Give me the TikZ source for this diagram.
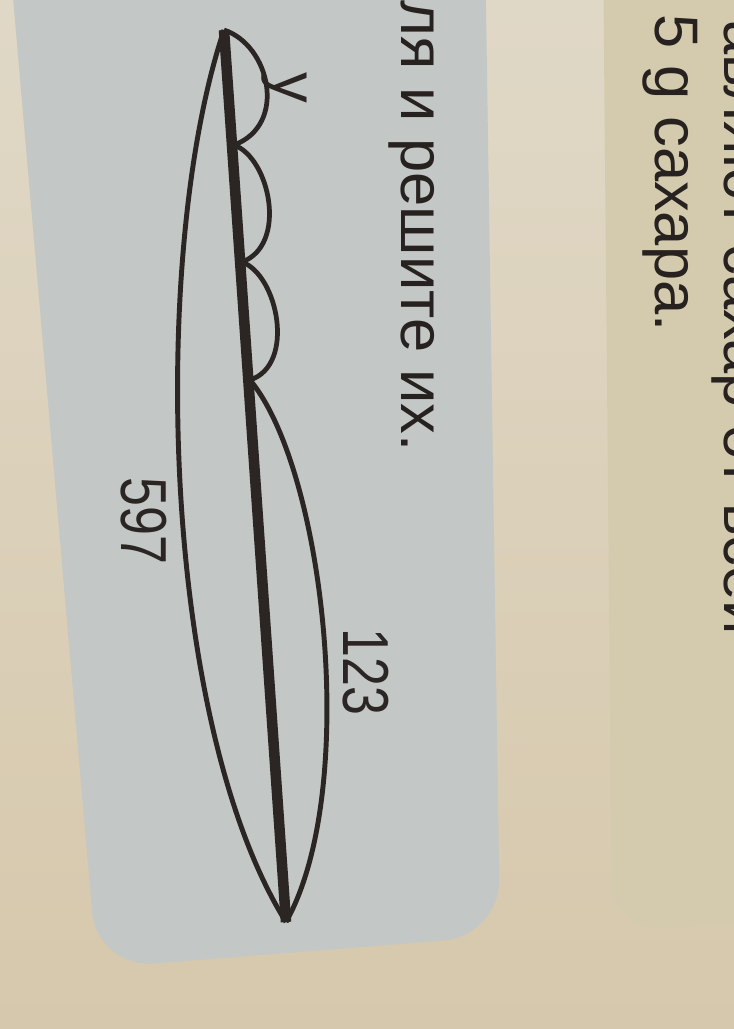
\documentclass[tikz,border=0pt]{standalone}
\usepackage{fontspec}
\usepackage{graphicx}
\setmainfont{Liberation Sans}
\definecolor{bgtop}{HTML}{E0D8C7}
\definecolor{bgbot}{HTML}{D6C8AC}
\definecolor{boxgray}{HTML}{C3C7C5}
\definecolor{khaki}{HTML}{D4CBAF}
\definecolor{ink}{HTML}{2B2623}
\tikzset{
  thickline/.style={draw=ink, line width=6pt, line cap=butt},
  thinline/.style={draw=ink, line width=2.8pt},
  arcline/.style={draw=ink, line width=2.7pt},
  pagetext/.style={text=ink!90!black, inner sep=0pt, rotate=-90, font=\fontsize{35}{40}\selectfont},
  numtext/.style={text=ink, inner sep=0pt, rotate=-90, font=\fontsize{37}{40}\selectfont},
}
\begin{document}
\begin{tikzpicture}[x=0.02cm,y=0.02cm]
\useasboundingbox (0,0) rectangle (734,-1029);
% page background
\shade[top color=bgtop, bottom color=bgbot] (-5,5) rectangle (740,-1035);
% khaki box on the right
\fill[khaki, rounded corners=27] (603,60) -- (612,-930) -- (780,-922) -- (780,60) -- cycle;
% grey-blue task box
\fill[boxgray, rounded corners=32] (8,60) -- (97,-968) -- (500,-936) -- (485,60) -- cycle;

% texts
\node[pagetext, anchor=base east] (t1) at (401,-452) {ля и решите их.};
\node[pagetext, anchor=base east] (t2) at (655,-332) {5 g сахара.};
\node[pagetext, anchor=base east] (t3) at (724,-635) {авляют сахар от всей};

% key points
\coordinate (A) at (224,-30);
\coordinate (P1) at (234,-145);
\coordinate (P2) at (242,-262);
\coordinate (C) at (250,-380);
\coordinate (B) at (286,-922);

% outer left arc (597)
\draw[thinline] (A) .. controls (150,-250) and (160,-720) .. (B);
% right arc (123)
\draw[thinline] (C) .. controls (325,-470) and (360,-790) .. (B);
% small arcs
\draw[arcline] (A) .. controls (270,-45) and (288,-125) .. (P1);
\draw[arcline] (P1) .. controls (270,-158) and (288,-245) .. (P2);
\draw[arcline] (P2) .. controls (278,-275) and (296,-365) .. (C);
% thick segment
\draw[thickline] (A) -- (B);

% labels
\node[numtext, anchor=base, font=\fontsize{35}{40}\selectfont] (ly) at (274,-88) {y};
\node[numtext, anchor=base] (l597) at (121,-521) {\scalebox{0.8}[1]{597}};
\node[numtext, anchor=base] (l123) at (343,-672) {\scalebox{0.8}[1]{123}};
\end{tikzpicture}
\end{document}
